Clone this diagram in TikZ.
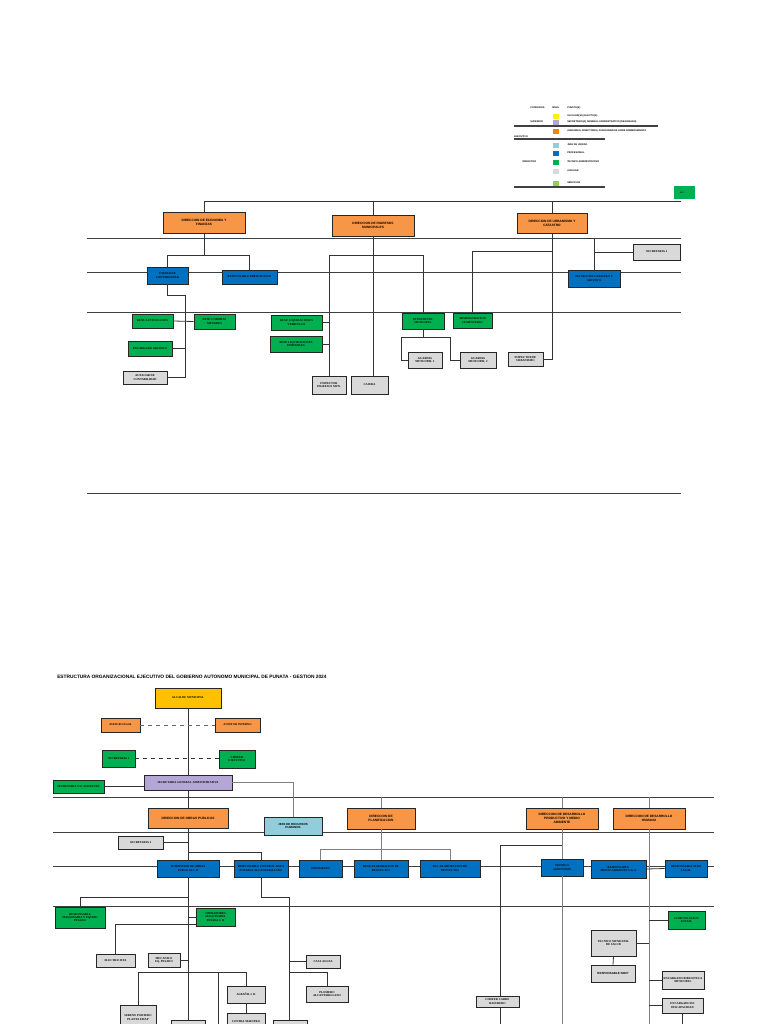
\documentclass[tikz,border=0pt]{standalone}
\usepackage{fontspec}
\setmainfont{Liberation Serif}
\newfontfamily\hsans{Liberation Sans}
\definecolor{cor}{HTML}{F79646}
\definecolor{cbl}{HTML}{0070C0}
\definecolor{cgr}{HTML}{00B050}
\definecolor{cgy}{HTML}{D9D9D9}
\definecolor{cye}{HTML}{FFC000}
\definecolor{cpu}{HTML}{B4A7D6}
\definecolor{clb}{HTML}{92CDDC}
\definecolor{clg}{HTML}{92D050}
\newcommand\bx[7]{\node[box,#6,minimum width={(#4-#2)*0.75pt},minimum height={(#5-#3)*0.75pt}] (#1) at ({(#2+#4)/2},{(#3+#5)/2}) {#7};}
\begin{document}
\begin{tikzpicture}[x=0.75pt,y=-0.75pt,
 box/.style={draw=black!85,line width=0.7pt,inner sep=0.5pt,align=center,font=\fontsize{2.2}{2.6}\selectfont\bfseries},
 ob/.style={fill=cor,font=\hsans\fontsize{2.4}{3}\selectfont\bfseries},
 bb/.style={fill=cbl},gb/.style={fill=cgr},yb/.style={fill=cye},
 pb/.style={fill=cpu},lb/.style={fill=clb,font=\hsans\fontsize{2.2}{2.8}\selectfont\bfseries},
 gyb/.style={fill=cgy},
 ln/.style={line width=0.6pt,black!80},
 band/.style={line width=0.6pt,black!75},
 lg/.style={font=\hsans\fontsize{1.8}{2}\selectfont\bfseries,anchor=west,inner sep=0}]
\useasboundingbox (0,0) rectangle (768,1024);
\fill[white] (0,0) rectangle (768,1024);
% ---------- legend ----------
\node[lg] (lh1) at (530,108) {CATEGORIA}; \node[lg] (lh2) at (552,108) {NIVEL}; \node[lg] (lh3) at (567,108) {PUESTO(S)};
\foreach \c/\y/\t [count=\i] in {yellow/116/ALCALDE(SA) ELECTO(A),cpu/122/SECRETARIO(A) GENERAL ADMINISTRATIVO (DESIGNADO),orange/131/ASESORES{,} DIRECTORES{,} FUNCIONARIOS LIBRE NOMBRAMIENTO,clb/145/JEFE DE UNIDAD,cbl/153/PROFESIONAL,cgr/162/TECNICO ADMINISTRATIVO,cgy/171/AUXILIAR,clg/183/SERVICIOS}{
 \fill[\c] (553,\y-2.5) rectangle (559,\y+2.5);
 \node[lg] (lt\i) at (567,\y) {\t};}
\node[lg] (lc1) at (530,122) {SUPERIOR}; \node[lg] (lc2) at (514,137) {EJECUTIVO}; \node[lg] (lc3) at (522,162) {OPERATIVO};
\draw[band,line width=0.8pt] (514,126) -- (658,126); \draw[band,line width=0.8pt] (514,139) -- (605,139); \draw[band,line width=0.8pt] (514,187) -- (605,187);
\bx{gsm}{674}{186}{695}{199}{gb,draw=none,font=\fontsize{1.5}{2}\selectfont}{\hspace*{-4pt}RED}
% ---------- top section ----------
\foreach \y in {238,272,312,493} \draw[band] (87,\y) -- (681,\y);
\bx{eco}{163}{212}{245}{233}{ob}{DIRECCION DE ECONOMIA Y\\FINANZAS}
\bx{ing}{332}{215}{414}{236}{ob}{DIRECCION DE INGRESOS\\MUNICIPALES}
\bx{urb}{517}{213}{587}{233}{ob}{DIRECCION DE URBANISMO Y\\CATASTRO}
\coordinate (t0) at (681,201);
\draw[ln] (t0) -| (eco.north); \draw[ln] (373,201) -- (ing.north); \draw[ln] (552,201) -- (urb.north);
\bx{con}{147}{267}{188}{284}{bb}{UNIDAD DE\\CONTABILIDAD}
\bx{pre}{222}{270}{277}{284}{bb}{RESPONSABLE PRESUPUESTO}
\draw[ln] (eco.south) -- (204,255) coordinate (c1); \draw[ln] (c1) -| (con.north); \draw[ln] (c1) -| (pre.north);
\bx{act}{132}{314}{173}{328}{gb}{RESP. ACTIVOS FIJOS}
\bx{com}{194}{314}{235}{329}{gb}{RESP. COMPRAS\\MENORES}
\bx{arc}{128}{341}{172}{356}{gb}{ENCARGADO ARCHIVO}
\bx{aux}{123}{371}{167}{384}{gyb}{AUXILIAR DE\\CONTABILIDAD}
\draw[ln] (con.south) |- (185,295) coordinate (c2); \draw[ln] (c2) |- (aux.east);
\draw[ln] (act.east) -- (com.west); \draw[ln] (arc.east) -| (185,348);
\bx{liv}{271}{315}{322}{330}{gb}{RESP. LIQUIDACIONES\\VEHICULOS}
\bx{lii}{270}{336}{322}{352}{gb}{RESP. LIQUIDACIONES\\INMUEBLES}
\bx{ins}{312}{376}{346}{394}{gyb}{INSPECTOR\\INGRESOS MUN.}
\bx{caj}{351}{376}{388}{394}{gyb}{CAJERA}
\draw[ln] (ing.south) -- (ing.south |- caj.north);
\bx{int}{402}{313}{444}{329}{gb}{INTENDENTE\\MUNICIPAL}
\bx{cem}{453}{313}{492}{328}{gb}{ADMINISTRACION\\CEMENTERIO}
\draw[ln] (int.north) |- (ins.north |- 0,255) -- (ins.north);
\draw[ln] (liv.east) -| (ins.north |- 0,323); \draw[ln] (lii.east) -| (ins.north |- 0,344);
\bx{gm1}{408}{352}{442}{368}{gyb}{GUARDIA\\MUNICIPAL 1}
\bx{gm2}{460}{352}{496}{368}{gyb}{GUARDIA\\MUNICIPAL 2}
\draw[ln] (int.south) -- (int.south |- 0,337) coordinate (c3); \draw[ln] (c3) -| (401,360) -- (gm1.west); \draw[ln] (c3) -| (450,360) -- (gm2.west);
\bx{iur}{508}{352}{543}{366}{gyb}{INSPECTOR DE\\URBANISMO}
\draw[ln] (urb.south) |- (iur.east);
\draw[ln] (urb.south |- 0,251) -| (cem.north);
\bx{tca}{568}{270}{620}{287}{bb}{TECNICO DE CATASTRO Y\\ARCHIVO}
\bx{sec}{633}{244}{680}{260}{gyb}{SECRETARIA I}
\draw[ln] (585,238) -| (tca.north); \draw[ln] (tca.north |- sec.west) -- (sec.west);
% ---------- bottom section ----------
\node[font=\hsans\fontsize{3.6}{4}\selectfont\bfseries,anchor=west,inner sep=0] (title) at (57,677) {ESTRUCTURA ORGANIZACIONAL EJECUTIVO DEL GOBIERNO AUTONOMO MUNICIPAL DE PUNATA - GESTION 2024};
\foreach \y in {797,832,866,906} \draw[band] (53,\y) -- (714,\y);
\bx{alc}{155}{688}{221}{708}{yb}{ALCALDE MUNICIPAL}
\bx{ase}{101}{718}{140}{732}{ob,font=\fontsize{2.2}{2.6}\selectfont\bfseries}{ASESOR LEGAL}
\bx{aud}{215}{718}{260}{732}{ob,font=\fontsize{2.2}{2.6}\selectfont\bfseries}{AUDITOR INTERNO}
\bx{sea}{102}{750}{135}{767}{gb}{SECRETARIA I}
\bx{cho}{219}{750}{255}{768}{gb}{CHOFER\\EJECUTIVO}
\bx{sga}{144}{775}{232}{790}{pb}{SECRETARIA GENERAL ADMINISTRATIVA}
\bx{sya}{53}{780}{104}{793}{gb}{SECRETARIA Y/O ASISTENTE}
\draw[ln] (alc.south) -- (sga.north);
\draw[ln,dashed,black!60] (ase.east) -- (aud.west); \draw[ln,dashed] (sea.east) -- (sea.east -| cho.west);
\draw[ln] (sya.east) -- (sya.east -| sga.west);
\bx{jrh}{264}{817}{322}{835}{lb}{JEFE DE RECURSOS\\HUMANOS}
\draw[ln,gray] (sga.east) -| (jrh.north);
\bx{obr}{148}{808}{228}{828}{ob}{DIRECCION DE OBRAS PUBLICAS}
\bx{pla}{347}{808}{415}{829}{ob}{DIRECCION DE\\PLANIFICACION}
\bx{dpr}{526}{808}{598}{829}{ob}{DIRECCION DE DESARROLLO\\PRODUCTIVO Y MEDIO\\AMBIENTE}
\bx{dhu}{613}{808}{685}{829}{ob}{DIRECCION DE DESARROLLO\\HUMANO}
\draw[ln] (sga.south) -- (obr.north);
\draw[ln,gray] (pla.north |- 0,797) -- (pla.north); \draw[ln,gray] (dpr.north |- 0,797) -- (dpr.north); \draw[ln,gray] (dhu.north |- 0,797) -- (dhu.north);
\bx{se2}{118}{836}{163}{849}{gyb}{SECRETARIA I}
\bx{sup}{157}{860}{219}{877}{bb}{SUPERVISOR DE OBRAS\\PUBLICAS I. II}
\bx{agu}{234}{860}{288}{877}{bb}{RESPONSABLE CONTROL AGUA\\POTABLE ALCANTARILLADO}
\bx{top}{299}{860}{342}{877}{bb}{TOPOGRAFO}
\bx{rep}{354}{860}{408}{877}{bb}{RESP. ELABORACION DE\\PROYECTOS}
\bx{tep}{420}{860}{480}{877}{bb}{TEC. ELABORACION DE\\PROYECTOS}
\bx{agr}{541}{859}{583}{876}{bb}{TECNICO\\AGRONOMO}
\bx{rma}{591}{860}{646}{878}{bb}{RESPONSABLE\\MEDIO AMBIENTE U.G.A}
\bx{rsl}{665}{860}{707}{877}{bb}{RESPONSABLE SLIM\\LEGAL}
\draw[ln] (obr.south) -- (sup.north); \draw[ln] (se2.east) -- (se2.east -| obr.south);
\draw[ln] (obr.south |- 0,852) -| (agu.north);
\draw[ln,gray] (pla.south) -- (rep.north); \draw[ln,gray] (top.north |- 0,849) -| (tep.north); \draw[ln,gray] (top.north |- 0,849) -- (top.north);
\draw[ln,gray] (dpr.south) -- (agr.north); \draw[ln] (dpr.south |- 0,845) -| (500,1024) coordinate (e1);
\draw[ln,gray] (dhu.south) -- (dhu.south |- 0,1024) coordinate (e2);
\draw[ln] (rma.east) -- (rsl.west);
% obras subtree
\bx{rmq}{55}{907}{105}{928}{gb}{RESPONSABLE\\MAQUINARIA Y EQUIPO\\PESADO}
\bx{opm}{196}{908}{235}{926}{gb}{OPERADORES\\MAQUINARIA\\PESADA I. II}
\bx{ele}{96}{954}{135}{967}{gyb}{ELECTRICISTA}
\bx{mec}{148}{953}{180}{967}{gyb}{MECANICO\\EQ. PESADO}
\bx{alb}{227}{986}{265}{1003}{gyb}{ALBAÑIL I. II}
\bx{cma}{227}{1013}{265}{1030}{gyb}{CONTRA MAESTRO}
\bx{ser}{120}{1005}{156}{1030}{gyb}{SERENO PORTERO\\PLANTA EMAP}
\bx{pb1}{171}{1020}{205}{1032}{gyb}{}
\bx{pb2}{273}{1020}{307}{1032}{gyb}{}
\draw[ln] (sup.south) -- (sup.south |- pb1.north);
\draw[ln] (sup.south |- 0,897) -| (rmq.north); \draw[ln] (opm.west) -- (opm.west -| sup.south);
\draw[ln] (ele.north) |- (opm.west |- 0,924); \draw[ln] (mec.east) -- (mec.east -| sup.south);
\draw[ln] (ser.north |- 0,972) -| (alb.north); \draw[ln] (ser.north |- 0,972) -- (ser.north); \draw[ln] (218,972) -- (218,1024);
\draw[ln] (alb.south) -- (cma.north);
\bx{caa}{306}{955}{340}{968}{gyb}{CAJA AGUAS}
\bx{plo}{306}{986}{348}{1002}{gyb}{PLOMERO\\ALCANTARILLADO}
\draw[ln] (agu.south) |- (289,897) -- (289,1020);
\draw[ln] (caa.west) -- (caa.west -| 289,0); \draw[ln] (289,972) -| (plo.north);
% desarrollo subtree
\bx{chb}{476}{996}{519}{1007}{gyb}{CHOFER CARRO\\BASURERO}
\draw[ln,gray] (agr.south) -- (agr.south |- 0,1024);
\bx{cso}{668}{911}{705}{929}{gb}{COMUNICACION\\SOCIAL}
\bx{tms}{591}{930}{636}{956}{gyb}{TECNICO MUNICIPAL\\DE SALUD}
\bx{rsd}{591}{965}{635}{982}{gyb,font=\hsans\fontsize{2.2}{2.6}\selectfont\bfseries}{RESPONSABLE SEDP}
\bx{bib}{662}{971}{704}{989}{gyb}{ENCARGADO BIBLIOTECA\\MUNICIPAL}
\bx{dis}{662}{998}{703}{1013}{gyb}{ENCARGADO DE\\DISCAPACIDAD}
\draw[ln] (cso.west) -- (cso.west -| dhu.south); \draw[ln] (tms.east) -- (tms.east -| dhu.south);
\draw[ln] (bib.west) -- (bib.west -| dhu.south); \draw[ln] (dis.west) -- (dis.west -| dhu.south);
\draw[ln] (tms.south) -- (rsd.north); \draw[ln] (dis.south) -- (dis.south |- 0,1024);
\end{tikzpicture}
\end{document}
